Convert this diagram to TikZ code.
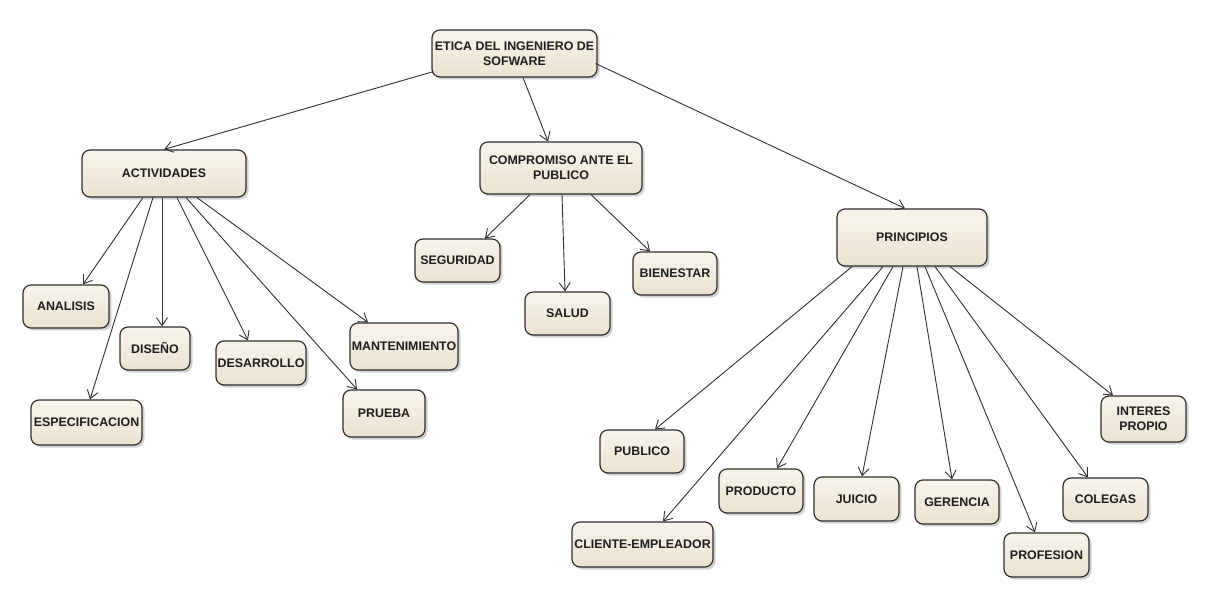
\documentclass[tikz,border=0pt]{standalone}
\usepackage{fontspec}
\setmainfont{Liberation Sans}
\usetikzlibrary{arrows.meta,shadows}
\definecolor{txt}{HTML}{1E1E1E}
\definecolor{edge}{HTML}{2E2E2E}
\definecolor{ctop}{HTML}{F8F4EC}
\definecolor{cbot}{HTML}{EBE2D0}
\tikzset{
  box/.style={draw=edge, line width=1.2pt, rounded corners=8pt,
    top color=ctop, bottom color=cbot,
    drop shadow={shadow xshift=2.5pt, shadow yshift=-2.5pt, fill=black!35, opacity=0.5},
    font=\fontsize{12.4}{15}\selectfont\bfseries, text=txt, align=center, inner sep=1pt},
  conn/.style={draw=edge, line width=0.9pt, -{Straight Barb[length=8pt,width=11pt]}}
}
\newcommand{\bx}[6]{\node[box, minimum width=#4pt, minimum height=#5pt] (#1) at (#2,#3) {#6};}
\begin{document}
\begin{tikzpicture}[x=1pt,y=-1pt]
\useasboundingbox (0,0) rectangle (1226,591);
\bx{etica}{514.5}{53.5}{165}{47}{ETICA DEL INGENIERO DE\\SOFWARE}
\bx{act}{164}{173.5}{164}{47}{ACTIVIDADES}
\bx{comp}{561}{168}{162}{52}{COMPROMISO ANTE EL\\PUBLICO}
\bx{prin}{912}{237.5}{150}{57}{PRINCIPIOS}
\bx{ana}{66}{306.5}{86}{43}{ANALISIS}
\bx{esp}{86.5}{422.5}{111}{45}{ESPECIFICACION}
\bx{dis}{155}{348.5}{70}{43}{DISEÑO}
\bx{des}{261}{363}{90}{44}{DESARROLLO}
\bx{man}{404}{346.5}{108}{47}{MANTENIMIENTO}
\bx{pru}{384}{413.5}{82}{47}{PRUEBA}
\bx{seg}{457.5}{260.5}{85}{43}{SEGURIDAD}
\bx{sal}{567.5}{313.5}{85}{43}{SALUD}
\bx{bie}{675}{273.5}{84}{43}{BIENESTAR}
\bx{pub}{642}{451.5}{84}{43}{PUBLICO}
\bx{cli}{642.5}{544.5}{141}{45}{CLIENTE-EMPLEADOR}
\bx{pro}{761}{491}{84}{44}{PRODUCTO}
\bx{jui}{856.5}{499}{85}{44}{JUICIO}
\bx{ger}{957}{502}{84}{44}{GERENCIA}
\bx{prf}{1046.5}{555}{85}{44}{PROFESION}
\bx{col}{1105.5}{499.5}{85}{43}{COLEGAS}
\bx{int}{1143.5}{419}{85}{46}{INTERES\\PROPIO}
% ETICA
\draw[conn] ([xshift=2pt,yshift=6pt]etica.south west) -- (act.north);
\draw[conn] ([xshift=8.5pt]etica.south) -- ([xshift=-13pt]comp.north);
\draw[conn] ([xshift=-2pt,yshift=-10pt]etica.east) -- ([xshift=-7pt]prin.north);
% ACTIVIDADES
\draw[conn] ([xshift=-21pt]act.south) -- ([xshift=17pt]ana.north);
\draw[conn] ([xshift=-11pt]act.south) -- ([xshift=3.5pt]esp.north);
\draw[conn] ([xshift=-2pt]act.south) -- ([xshift=7pt]dis.north);
\draw[conn] ([xshift=13pt]act.south) -- ([xshift=-13pt]des.north);
\draw[conn] ([xshift=22pt]act.south) -- ([xshift=-27pt]pru.north);
\draw[conn] ([xshift=33pt]act.south) -- ([xshift=-36pt]man.north);
% COMPROMISO
\draw[conn] ([xshift=-31pt]comp.south) -- ([xshift=27.5pt]seg.north);
\draw[conn] ([xshift=1pt]comp.south) -- ([xshift=-2.5pt]sal.north);
\draw[conn] ([xshift=30pt]comp.south) -- ([xshift=-25pt]bie.north);
% PRINCIPIOS
\draw[conn] ([xshift=-60pt]prin.south) -- ([xshift=13pt]pub.north);
\draw[conn] ([xshift=-29pt]prin.south) -- ([xshift=20.5pt]cli.north);
\draw[conn] ([xshift=-19pt]prin.south) -- ([xshift=16pt]pro.north);
\draw[conn] ([xshift=-9pt]prin.south) -- ([xshift=5.5pt]jui.north);
\draw[conn] ([xshift=5pt]prin.south) -- ([xshift=-5pt]ger.north);
\draw[conn] ([xshift=13pt]prin.south) -- ([xshift=-11.5pt]prf.north);
\draw[conn] ([xshift=23pt]prin.south) -- ([xshift=-17.5pt]col.north);
\draw[conn] ([xshift=38pt]prin.south) -- ([xshift=-30.5pt]int.north);
\end{tikzpicture}
\end{document}
